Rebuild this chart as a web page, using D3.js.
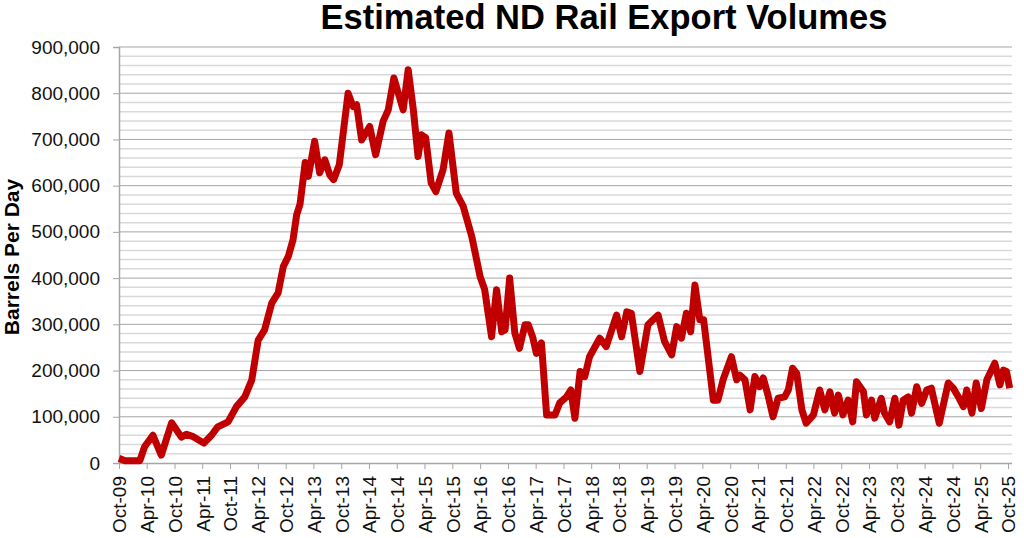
<!DOCTYPE html>
<html>
<head>
<meta charset="utf-8">
<script src="https://cdn.jsdelivr.net/npm/d3@7"></script>
<style>
  html, body { margin: 0; padding: 0; background: #fff; }
  svg { display: block; font-family: "Liberation Sans", Arial, sans-serif; }
</style>
</head>
<body>
<svg id="chart" width="1024" height="538"></svg>
<script>
const title = "Estimated ND Rail Export Volumes";
const yLabel = "Barrels Per Day";

const tickLabels = ["Oct-09","Apr-10","Oct-10","Apr-11","Oct-11","Apr-12","Oct-12","Apr-13",
  "Oct-13","Apr-14","Oct-14","Apr-15","Oct-15","Apr-16","Oct-16","Apr-17","Oct-17","Apr-18",
  "Oct-18","Apr-19","Oct-19","Apr-20","Oct-20","Apr-21","Oct-21","Apr-22","Oct-22","Apr-23",
  "Oct-23","Apr-24","Oct-24","Apr-25","Oct-25"];

const yTicks = [0,100000,200000,300000,400000,500000,600000,700000,800000,900000];

const dates = [
 "2009-10-01","2009-11-10","2010-02-15","2010-03-18","2010-05-12","2010-07-06","2010-09-12","2010-11-15",
 "2010-12-18","2011-02-01","2011-04-12","2011-06-01","2011-07-12","2011-09-18","2011-11-12","2012-01-06",
 "2012-02-21","2012-04-03","2012-05-15","2012-07-01","2012-08-12","2012-09-15","2012-10-18","2012-11-18",
 "2012-12-12","2013-01-03","2013-02-06","2013-02-27","2013-04-09","2013-05-12","2013-06-15","2013-07-18",
 "2013-08-12","2013-09-18","2013-11-15","2013-12-18","2014-01-10","2014-02-12","2014-04-06","2014-05-15",
 "2014-07-03","2014-08-06","2014-09-12","2014-11-12","2014-12-15","2015-01-18","2015-02-18","2015-03-12",
 "2015-04-09","2015-05-15","2015-06-15","2015-08-01","2015-09-09","2015-10-27","2015-12-12","2016-02-06",
 "2016-04-01","2016-05-01","2016-06-15","2016-07-18","2016-08-21","2016-09-12","2016-10-12","2016-11-15",
 "2016-12-15","2017-01-21","2017-02-12","2017-03-12","2017-04-06","2017-05-09","2017-06-12","2017-08-06",
 "2017-09-06","2017-10-21","2017-11-18","2017-12-15","2018-01-18","2018-02-18","2018-03-21","2018-05-27",
 "2018-07-09","2018-09-15","2018-10-18","2018-11-21","2018-12-21","2019-02-15","2019-04-09","2019-06-15",
 "2019-07-27","2019-09-12","2019-10-15","2019-11-15","2019-12-18","2020-01-15","2020-02-12","2020-03-15",
 "2020-04-09","2020-06-12","2020-07-12","2020-08-15","2020-10-09","2020-11-12","2020-12-03","2021-01-06",
 "2021-02-09","2021-03-12","2021-04-12","2021-05-06","2021-06-06","2021-07-09","2021-08-12","2021-09-24",
 "2021-10-18","2021-11-15","2021-12-12","2022-01-15","2022-02-12","2022-04-01","2022-05-12","2022-06-15",
 "2022-07-18","2022-08-18","2022-09-12","2022-10-12","2022-11-15","2022-12-15","2023-01-09","2023-02-24",
 "2023-03-15","2023-04-18","2023-05-09","2023-06-21","2023-07-12","2023-08-15","2023-09-18","2023-10-15",
 "2023-11-12","2023-12-15","2024-01-06","2024-02-09","2024-03-12","2024-04-15","2024-05-15","2024-07-06",
 "2024-09-03","2024-10-06","2024-11-09","2024-12-12","2025-01-03","2025-02-06","2025-03-06","2025-04-09",
 "2025-05-15","2025-07-06","2025-08-09","2025-09-01","2025-09-21","2025-10-12"
];

const volumes = [
 10000,5000,5000,35000,60000,17000,87000,56000,
 62000,57000,43000,60000,78000,89000,122000,143000,
 180000,266000,288000,346000,368000,425000,447000,483000,
 537000,560000,650000,620000,696000,628000,656000,623000,
 613000,645000,800000,771000,775000,699000,728000,667000,
 739000,764000,833000,764000,851000,764000,663000,710000,
 704000,606000,587000,634000,714000,584000,555000,490000,
 403000,375000,273000,375000,284000,288000,400000,281000,
 248000,299000,299000,273000,237000,260000,104000,104000,
 130000,143000,158000,97000,198000,187000,230000,270000,
 252000,320000,273000,327000,324000,198000,299000,320000,
 263000,234000,295000,270000,324000,284000,385000,310000,
 310000,136000,136000,180000,230000,180000,190000,180000,
 115000,187000,165000,184000,147000,100000,140000,143000,
 158000,205000,194000,115000,86000,104000,158000,115000,
 154000,108000,147000,104000,136000,89000,176000,154000,
 104000,136000,97000,140000,108000,89000,140000,82000,
 136000,143000,108000,165000,129000,158000,162000,86000,
 173000,162000,143000,122000,158000,108000,173000,118000,
 180000,216000,169000,201000,198000,162000
];

const parseDate = d3.timeParse("%Y-%m-%d");
const parseTick = d3.timeParse("%b-%y");
const data = dates.map((d, i) => ({ date: parseDate(d), value: volumes[i] }));
const tickDates = tickLabels.map(t => parseTick(t));

const svg = d3.select("#chart");
const plotL = 119, plotR = 1008, plotT = 47, plotB = 463, gridR = 1012;

const x = d3.scaleTime()
  .domain([tickDates[0], tickDates[tickDates.length - 1]])
  .range([plotL, plotR]);
const y = d3.scaleLinear().domain([0, 900000]).range([plotB, plotT]);

// minor grid
const minor = d3.range(0, 900001, 20000).filter(v => v % 100000 !== 0);
svg.append("g").selectAll("line").data(minor).join("line")
  .attr("x1", plotL).attr("x2", gridR)
  .attr("y1", d => y(d)).attr("y2", d => y(d))
  .attr("stroke", "#d9d9d9").attr("stroke-width", 1.5);

// major grid
svg.append("g").selectAll("line").data(yTicks.filter(v => v > 0)).join("line")
  .attr("x1", plotL).attr("x2", gridR)
  .attr("y1", d => y(d)).attr("y2", d => y(d))
  .attr("stroke", "#a6a6a6").attr("stroke-width", 1);

// y axis
const yAxis = svg.append("g").attr("transform", `translate(${plotL},0)`)
  .call(d3.axisLeft(y).tickValues(yTicks).tickFormat(d3.format(",")).tickSize(6).tickPadding(13));
yAxis.select(".domain").attr("stroke", "#a6a6a6").attr("stroke-width", 1.5);
yAxis.selectAll(".tick line").attr("stroke", "#a6a6a6");
yAxis.selectAll("text").attr("font-size", 19).attr("fill", "#111")
  .attr("font-family", "Liberation Sans, Arial, sans-serif");

// x axis
const xAxis = svg.append("g").attr("transform", `translate(0,${plotB})`)
  .call(d3.axisBottom(x).tickValues(tickDates).tickFormat((d, i) => tickLabels[i]).tickSize(6).tickSizeOuter(0));
xAxis.select(".domain").attr("stroke", "#a6a6a6").attr("stroke-width", 1.5)
  .attr("d", `M${plotL},0.5H${gridR}`);
xAxis.selectAll(".tick line").attr("stroke", "#a6a6a6");
xAxis.selectAll("text")
  .attr("font-size", 19).attr("fill", "#111")
  .attr("font-family", "Liberation Sans, Arial, sans-serif")
  .attr("text-anchor", "end")
  .attr("transform", "translate(0,13) rotate(-90)")
  .attr("x", 0).attr("y", 0).attr("dy", "0.36em");

// line
const line = d3.line().x(d => x(d.date)).y(d => y(d.value));
svg.append("path").datum(data)
  .attr("d", line)
  .attr("fill", "none")
  .attr("stroke", "#c00000")
  .attr("stroke-width", 7)
  .attr("stroke-linejoin", "round")
  .attr("stroke-linecap", "butt");

// title
svg.append("text").attr("x", 604).attr("y", 29)
  .attr("text-anchor", "middle").attr("font-size", 34.5).attr("font-weight", "bold")
  .attr("fill", "#000").text(title);

// y label
svg.append("text").attr("transform", "translate(19,257) rotate(-90)")
  .attr("text-anchor", "middle").attr("font-size", 21).attr("font-weight", "bold")
  .attr("fill", "#000").text(yLabel);
</script>
</body>
</html>
